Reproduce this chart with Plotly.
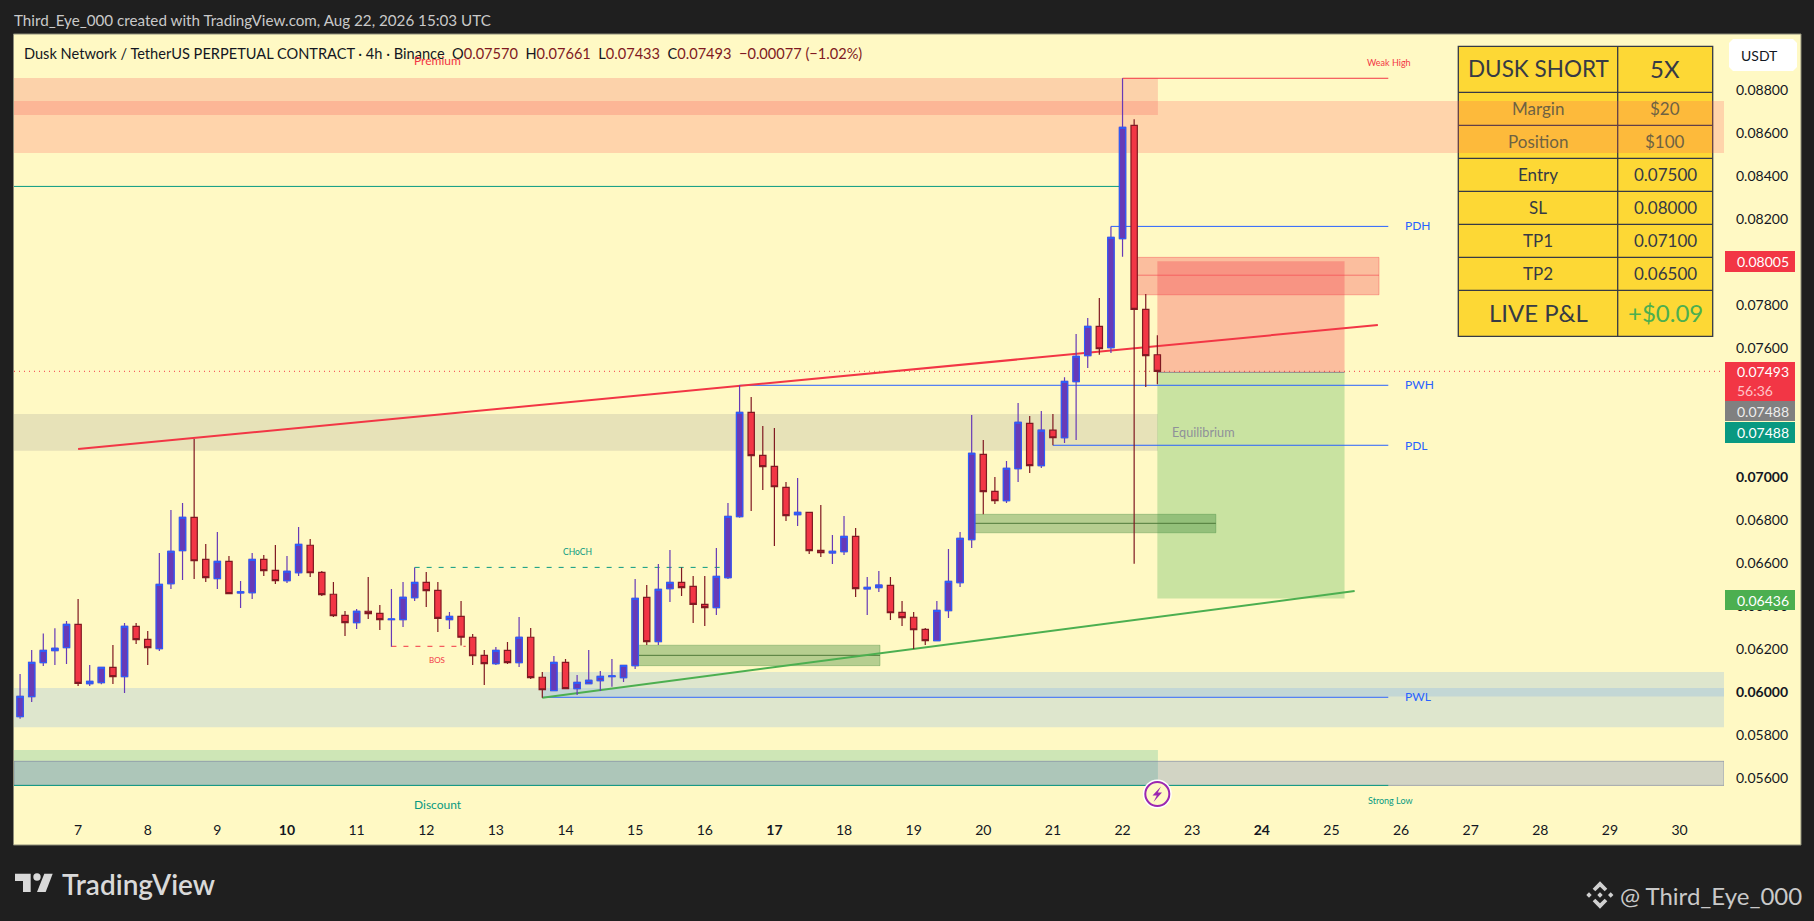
from datetime import datetime, timedelta

import plotly.graph_objects as go

W, H = 1814, 921
FONT = "Lato"

# 4h candles, first bar is Aug 6 2026 04:00 UTC
opens = [
    0.05887, 0.05980, 0.06138, 0.06194, 0.06208, 0.06316, 0.06040, 0.06045, 0.06116, 0.06073,
    0.06307, 0.06246, 0.06203, 0.06505, 0.06659, 0.06814, 0.06618, 0.06529, 0.06609, 0.06462,
    0.06463, 0.06618, 0.06567, 0.06519, 0.06556, 0.06684, 0.06558, 0.06456, 0.06358, 0.06324,
    0.06377, 0.06367, 0.06338, 0.06338, 0.06440, 0.06511, 0.06474, 0.06338, 0.06353, 0.06256,
    0.06172, 0.06133, 0.06195, 0.06138, 0.06256, 0.06070, 0.06008, 0.06139, 0.06017, 0.06040,
    0.06054, 0.06073, 0.06068, 0.06124, 0.06442, 0.06236, 0.06482, 0.06511, 0.06493, 0.06409,
    0.06394, 0.06533, 0.06817, 0.07302, 0.07102, 0.07051, 0.06953, 0.06826, 0.06837, 0.06660,
    0.06648, 0.06654, 0.06725, 0.06481, 0.06487, 0.06497, 0.06372, 0.06349, 0.06293, 0.06240,
    0.06380, 0.06510, 0.06710, 0.07107, 0.06935, 0.06891, 0.07040, 0.07251, 0.07054, 0.07219,
    0.07184, 0.07445, 0.07566, 0.07702, 0.07603, 0.08110, 0.08637, 0.07781, 0.07570,
]
highs = [
    0.06085, 0.06197, 0.06274, 0.06298, 0.06332, 0.06434, 0.06127, 0.06116, 0.06220, 0.06322,
    0.06322, 0.06285, 0.06648, 0.06848, 0.06880, 0.07178, 0.06690, 0.06746, 0.06634, 0.06518,
    0.06648, 0.06639, 0.06685, 0.06634, 0.06769, 0.06713, 0.06564, 0.06513, 0.06378, 0.06387,
    0.06536, 0.06406, 0.06480, 0.06513, 0.06581, 0.06560, 0.06513, 0.06374, 0.06425, 0.06271,
    0.06197, 0.06211, 0.06234, 0.06350, 0.06299, 0.06094, 0.06169, 0.06155, 0.06080, 0.06197,
    0.06099, 0.06155, 0.06127, 0.06527, 0.06499, 0.06597, 0.06662, 0.06581, 0.06541, 0.06541,
    0.06671, 0.06880, 0.07428, 0.07374, 0.07239, 0.07229, 0.06978, 0.06997, 0.06837, 0.06871,
    0.06732, 0.06820, 0.06764, 0.06536, 0.06564, 0.06536, 0.06425, 0.06374, 0.06299, 0.06425,
    0.06667, 0.06746, 0.07290, 0.07174, 0.07001, 0.07076, 0.07346, 0.07285, 0.07308, 0.07294,
    0.07465, 0.07667, 0.07741, 0.07834, 0.08167, 0.08856, 0.08665, 0.07853, 0.07661,
]
lows = [
    0.05877, 0.05955, 0.06122, 0.06127, 0.06132, 0.06029, 0.06029, 0.06037, 0.06039, 0.05997,
    0.06225, 0.06127, 0.06192, 0.06480, 0.06522, 0.06527, 0.06513, 0.06480, 0.06459, 0.06392,
    0.06434, 0.06541, 0.06504, 0.06508, 0.06541, 0.06536, 0.06448, 0.06350, 0.06262, 0.06294,
    0.06341, 0.06290, 0.06212, 0.06304, 0.06425, 0.06397, 0.06280, 0.06294, 0.06218, 0.06127,
    0.06034, 0.06127, 0.06132, 0.06118, 0.06062, 0.05975, 0.06008, 0.06017, 0.05987, 0.06040,
    0.06006, 0.06026, 0.06048, 0.06108, 0.06220, 0.06220, 0.06420, 0.06448, 0.06322, 0.06308,
    0.06360, 0.06527, 0.06812, 0.06843, 0.06941, 0.06680, 0.06797, 0.06773, 0.06643, 0.06629,
    0.06597, 0.06639, 0.06443, 0.06360, 0.06467, 0.06336, 0.06308, 0.06201, 0.06220, 0.06240,
    0.06346, 0.06490, 0.06671, 0.06828, 0.06876, 0.06880, 0.06978, 0.07020, 0.07043, 0.07149,
    0.07160, 0.07174, 0.07508, 0.07570, 0.07578, 0.08026, 0.06598, 0.07420, 0.07433,
]
closes = [
    0.05981, 0.06139, 0.06195, 0.06205, 0.06316, 0.06042, 0.06051, 0.06116, 0.06073, 0.06307,
    0.06245, 0.06208, 0.06502, 0.06656, 0.06814, 0.06612, 0.06533, 0.06609, 0.06459, 0.06467,
    0.06618, 0.06566, 0.06519, 0.06563, 0.06688, 0.06556, 0.06454, 0.06356, 0.06324, 0.06377,
    0.06366, 0.06338, 0.06341, 0.06442, 0.06511, 0.06473, 0.06344, 0.06353, 0.06256, 0.06170,
    0.06133, 0.06195, 0.06138, 0.06256, 0.06068, 0.06012, 0.06139, 0.06017, 0.06046, 0.06056,
    0.06074, 0.06076, 0.06125, 0.06437, 0.06236, 0.06479, 0.06511, 0.06487, 0.06409, 0.06394,
    0.06539, 0.06818, 0.07302, 0.07101, 0.07050, 0.06956, 0.06822, 0.06837, 0.06659, 0.06649,
    0.06656, 0.06725, 0.06482, 0.06488, 0.06499, 0.06370, 0.06347, 0.06291, 0.06240, 0.06381,
    0.06516, 0.06716, 0.07112, 0.06933, 0.06891, 0.07042, 0.07256, 0.07054, 0.07219, 0.07184,
    0.07446, 0.07563, 0.07702, 0.07598, 0.08116, 0.08628, 0.07781, 0.07566, 0.07493,
]

# price levels
price_ticks = [0.056, 0.058, 0.060, 0.062, 0.064, 0.066, 0.068, 0.070, 0.072, 0.074,
               0.076, 0.078, 0.080, 0.082, 0.084, 0.086, 0.088]
bold_prices = [0.060, 0.070, 0.080]
day_ticks = list(range(7, 31))
bold_days = [10, 17, 24]
last_price = 0.07493
stop_price = 0.08005
entry_price = 0.07488
target_price = 0.06436

# trade card
card_labels = ["DUSK SHORT", "Margin", "Position", "Entry", "SL", "TP1", "TP2", "LIVE P&L"]
card_values = ["5X", "$20", "$100", "0.07500", "0.08000", "0.07100", "0.06500", "+$0.09"]

BG = "#FFF9C4"
DARK = "#1F1F1F"
RED = "#F23645"
BLUE = "#2962FF"
PURPLE = "#673AB7"
TEAL = "#089981"
WICK_RED = "#801922"
INK = "#131722"
TABLE_INK = "#363A45"


def bar_time(i):
    return datetime(2026, 8, 6, 4) + timedelta(hours=4 * i)


def px_x(x):
    return x / W


def px_y(y):
    return 1 - y / H


times = [bar_time(i) for i in range(len(opens))]
x_left = datetime(2026, 8, 7) + timedelta(days=-0.9206)
x_right = datetime(2026, 8, 7) + timedelta(days=23.638)

fig = go.Figure()

# wicks and bodies, up bars get their blue border from a second wickless trace
fig.add_trace(go.Candlestick(
    x=times, open=opens, high=highs, low=lows, close=closes,
    increasing=dict(line=dict(color=PURPLE, width=1.2), fillcolor=PURPLE),
    decreasing=dict(line=dict(color=WICK_RED, width=1.2), fillcolor=RED),
    showlegend=False,
))
up = [i for i in range(len(opens)) if closes[i] >= opens[i]]
fig.add_trace(go.Candlestick(
    x=[times[i] for i in up],
    open=[opens[i] for i in up],
    high=[closes[i] for i in up],
    low=[opens[i] for i in up],
    close=[closes[i] for i in up],
    increasing=dict(line=dict(color=BLUE, width=1), fillcolor=PURPLE),
    decreasing=dict(line=dict(color=BLUE, width=1), fillcolor=PURPLE),
    showlegend=False,
))


def paper_rect(x0, y0, x1, y1, fill, line=None, layer="below", width=1):
    fig.add_shape(type="rect", xref="paper", yref="paper", layer=layer,
                  x0=px_x(x0), x1=px_x(x1), y0=px_y(y0), y1=px_y(y1),
                  fillcolor=fill, line=dict(color=line or fill, width=width if line else 0))


def paper_path(points, fill, layer="above"):
    path = "M " + " L ".join(f"{px_x(x):.5f} {px_y(y):.5f}" for x, y in points) + " Z"
    fig.add_shape(type="path", xref="paper", yref="paper", layer=layer, path=path,
                  fillcolor=fill, line=dict(width=0))


def paper_circle(cx, cy, r, fill, line=None, width=0):
    fig.add_shape(type="circle", xref="paper", yref="paper", layer="above",
                  x0=px_x(cx - r), x1=px_x(cx + r), y0=px_y(cy + r), y1=px_y(cy - r),
                  fillcolor=fill, line=dict(color=line or fill, width=width))


def zone(x0, x1, y0, y1, fill, line=None):
    fig.add_shape(type="rect", layer="below", x0=x0, x1=x1, y0=y0, y1=y1, fillcolor=fill,
                  line=dict(color=line or fill, width=1 if line else 0))


def level(x0, x1, y0, y1=None, color=BLUE, width=1, dash="solid"):
    fig.add_shape(type="line", layer="below", x0=x0, x1=x1, y0=y0, y1=y0 if y1 is None else y1,
                  line=dict(color=color, width=width, dash=dash))


def text(x, y, s, size, color, anchor="center", weight=None):
    fig.add_annotation(xref="paper", yref="paper", x=px_x(x), y=px_y(y), text=s, showarrow=False,
                       xanchor=anchor, yanchor="middle", font=dict(family=FONT, size=size, color=color, weight=weight))


# pane and price/time scale background
paper_rect(13.5, 34, 1801, 845, BG, line="#8C8C78")

# card sits under the zones, the premium band tints it
CARD_X = [1458.3, 1617.7, 1712.7]
CARD_Y = [46.3, 92.3, 125.3, 158.3, 191.3, 224.3, 257.3, 290.3, 336.3]
paper_rect(CARD_X[0], CARD_Y[0], CARD_X[2], CARD_Y[-1], "#FDD835", line=TABLE_INK, width=1.3)
for cy in CARD_Y[1:-1]:
    fig.add_shape(type="line", xref="paper", yref="paper", layer="below", x0=px_x(CARD_X[0]), x1=px_x(CARD_X[2]),
                  y0=px_y(cy), y1=px_y(cy), line=dict(color=TABLE_INK, width=1.3))
fig.add_shape(type="line", xref="paper", yref="paper", layer="below", x0=px_x(CARD_X[1]), x1=px_x(CARD_X[1]),
              y0=px_y(CARD_Y[0]), y1=px_y(CARD_Y[-1]), line=dict(color=TABLE_INK, width=1.3))

# supply / demand zones
zone(x_left, bar_time(98.05), 0.08857, 0.08685, "rgba(242,54,69,0.20)")
zone(x_left, x_right, 0.0875, 0.08508, "rgba(255,82,82,0.22)")
zone(x_left, bar_time(98.05), 0.07294, 0.07124, "rgba(120,123,134,0.18)")
zone(bar_time(45), x_right, 0.06094, 0.0598, "rgba(91,156,246,0.20)")
zone(x_left, x_right, 0.0602, 0.05838, "rgba(91,156,246,0.20)")
zone(x_left, bar_time(98.05), 0.05732, 0.05567, "rgba(8,153,129,0.20)")
zone(x_left, x_right, 0.05679, 0.05567, "rgba(75,105,196,0.25)", line="rgba(120,130,160,0.6)")

# position tool
zone(bar_time(98), bar_time(114.13), stop_price, entry_price, "rgba(242,54,69,0.30)")
zone(bar_time(98), bar_time(114.13), entry_price, target_price, "rgba(76,175,80,0.30)")
level(bar_time(98), bar_time(114.13), entry_price, color="rgba(120,123,134,0.8)")

# imbalance boxes
zone(bar_time(96), bar_time(117.1), 0.08023, 0.07849, "rgba(242,54,69,0.30)", line="rgba(242,54,69,0.35)")
level(bar_time(96), bar_time(117.1), 0.0794, color="rgba(242,54,69,0.55)")
zone(bar_time(53), bar_time(74.1), 0.06219, 0.06124, "rgba(46,125,50,0.35)", line="rgba(46,125,50,0.30)")
level(bar_time(53), bar_time(74.1), 0.06172, color="#4F7A3A")
zone(bar_time(82), bar_time(103.04), 0.06828, 0.06742, "rgba(46,125,50,0.35)", line="rgba(46,125,50,0.30)")
level(bar_time(82), bar_time(103.04), 0.06786, color="#4F7A3A")

# structure lines
level(x_left, bar_time(95), 0.08353, color=TEAL)
level(bar_time(95), bar_time(117.9), 0.08856, color=RED)
level(bar_time(94), bar_time(117.9), 0.08167)
level(bar_time(62), bar_time(117.9), 0.07428)
level(bar_time(89), bar_time(117.9), 0.07149)
level(bar_time(45), bar_time(117.9), 0.05977)
level(x_left, bar_time(117.9), 0.05567, color=TEAL)
level(bar_time(34), bar_time(60.7), 0.06581, color=TEAL, dash="5px,7px")
level(bar_time(32), bar_time(38.4), 0.06214, color=RED, dash="5px,7px")
level(x_left, x_right, last_price, color=RED, dash="1px,4px")

# trend lines
level(bar_time(5), bar_time(117), 0.07132, 0.07708, color=RED, width=2)
level(bar_time(45), bar_time(115), 0.05975, 0.06471, color="#4CAF50", width=2)

# price scale tags
TAG_L, TAG_R = 1725, 1795
paper_rect(TAG_L, 251, TAG_R, 272, RED, layer="above")
paper_rect(TAG_L, 362, TAG_R, 401, RED, layer="above")
paper_rect(TAG_L, 401, TAG_R, 421, "#808080", layer="above")
paper_rect(TAG_L, 422, TAG_R, 443, TEAL, layer="above")
paper_rect(TAG_L, 590, TAG_R, 610, "#4CAF50", layer="above")
paper_path([(1733, 39), (1793, 39), (1797, 43), (1797, 67), (1793, 71), (1733, 71), (1729, 67), (1729, 43)], "#FFFFFF")
text(1735, 261.5, f"{stop_price:.5f}", 14, "#FFFFFF", "left")
text(1735, 372, f"{last_price:.5f}", 14, "#FFFFFF", "left")
text(1735, 391, "56:36", 14, "#FFC2C7", "left")
text(1735, 411, f"{entry_price:.5f}", 14, "#EDEDED", "left")
text(1735, 432.5, f"{entry_price:.5f}", 14, "#FFFFFF", "left")
text(1735, 600, f"{target_price:.5f}", 14, "#FFFFFF", "left")
text(1739, 55, "USDT", 14, INK, "left")

# card text
CARD_BIG = {"DUSK SHORT": 22.5, "5X": 24, "LIVE P&L": 24, "+$0.09": 24}
row_mid = [(a + b) / 2 for a, b in zip(CARD_Y[:-1], CARD_Y[1:])]
col_a = (CARD_X[0] + CARD_X[1]) / 2
col_b = (CARD_X[1] + CARD_X[2]) / 2
for n, (name, val) in enumerate(zip(card_labels, card_values)):
    ink = "#6E6242" if n in (1, 2) else TABLE_INK
    text(col_a, row_mid[n] - 0.5, name, CARD_BIG.get(name, 17), ink)
    text(col_b, row_mid[n] - 0.5, val, CARD_BIG.get(val, 17), "#4CAF50" if val.startswith("+") else ink)

# chart labels
text(21.5, 53, "Dusk Network / TetherUS PERPETUAL CONTRACT · 4h · Binance  "
               "O<span style='color:#801922'>0.07570</span>  H<span style='color:#801922'>0.07661</span>  "
               "L<span style='color:#801922'>0.07433</span>  C<span style='color:#801922'>0.07493</span>  "
               "<span style='color:#801922'>−0.00077 (−1.02%)</span>", 14.6, INK, "left")
text(437, 60, "Premium", 12, RED)
text(1389, 62.5, "Weak High", 9, RED)
text(1403, 225.5, "PDH", 12, BLUE, "left")
text(1403, 384.5, "PWH", 12, BLUE, "left")
text(1403, 445, "PDL", 12, BLUE, "left")
text(1403, 696, "PWL", 12, BLUE, "left")
text(1170, 431.5, "Equilibrium", 12.7, "#8F9199", "left")
text(577, 552, "CHoCH", 8.5, TEAL)
text(437, 660, "BOS", 8, RED)
text(438, 804.5, "Discount", 12, TEAL)
text(1390, 800, "Strong Low", 9, TEAL)

# marker under the last bars
paper_circle(1157.3, 794, 14.5, "#FFFFFF")
paper_circle(1157.3, 794, 12, BG, line="#9C27B0", width=2)
paper_path([(1161, 786.5), (1152.5, 795.5), (1156.8, 795.5), (1153.5, 802), (1162, 792.5), (1157.8, 792.5)], "#9C27B0")

# header and footer
text(11.5, 20, "Third_Eye_000 created with TradingView.com, Aug 22, 2026 15:03 UTC", 15.2, "#C9C9C9", "left")
paper_path([(15, 873.7), (30.7, 873.7), (30.7, 892), (23, 892), (23, 881), (15, 881)], "#D9D9D9")
paper_circle(37, 877, 3.7, "#D9D9D9")
paper_path([(44.3, 873.7), (52.7, 873.7), (45.7, 892), (37, 892)], "#D9D9D9")
text(59.5, 884, "TradingView", 28, "#D9D9D9", "left", weight=600)
paper_path([(1600, 881.3), (1607.3, 888.7), (1604.7, 891.3), (1600, 886.7), (1595.3, 891.3), (1592.7, 888.7)], "#D0D0D0")
paper_path([(1600, 908.7), (1607.3, 901.3), (1604.7, 898.7), (1600, 903.3), (1595.3, 898.7), (1592.7, 901.3)], "#D0D0D0")
for cx, r in [(1589, 2.7), (1600, 2.7), (1610.7, 2.7)]:
    paper_path([(cx, 895 - r), (cx + r, 895), (cx, 895 + r), (cx - r, 895)], "#D0D0D0")
text(1618, 895, "@ Third_Eye_000", 24, "#C9C9C9", "left")

fig.update_layout(
    width=W,
    height=H,
    margin=dict(l=0, r=0, t=0, b=0),
    paper_bgcolor=DARK,
    plot_bgcolor=BG,
    boxmode="overlay",
    boxgap=0.22,
    showlegend=False,
    font=dict(family=FONT, size=14, color=INK),
    xaxis=dict(
        domain=[px_x(14), px_x(1724)],
        type="date",
        range=[x_left, x_right],
        rangeslider=dict(visible=False),
        showgrid=False,
        zeroline=False,
        ticks="",
        tickvals=[datetime(2026, 8, d) for d in day_ticks],
        ticktext=[f"<b>{d}</b>" if d in bold_days else str(d) for d in day_ticks],
        tickangle=0,
        ticklabelstandoff=8,
    ),
    yaxis=dict(
        domain=[px_y(812), px_y(34)],
        side="right",
        range=[0.054433, 0.090619],
        showgrid=False,
        zeroline=False,
        ticks="",
        tickvals=price_ticks,
        ticktext=[f"<b>{p:.5f}</b>" if p in bold_prices else f"{p:.5f}" for p in price_ticks],
        ticklabelstandoff=11,
    ),
)

# the page has a default body margin, the chart fills the window edge to edge
fig.write_html("out.html", config={"displayModeBar": False}, post_script="document.body.style.margin='0';")
